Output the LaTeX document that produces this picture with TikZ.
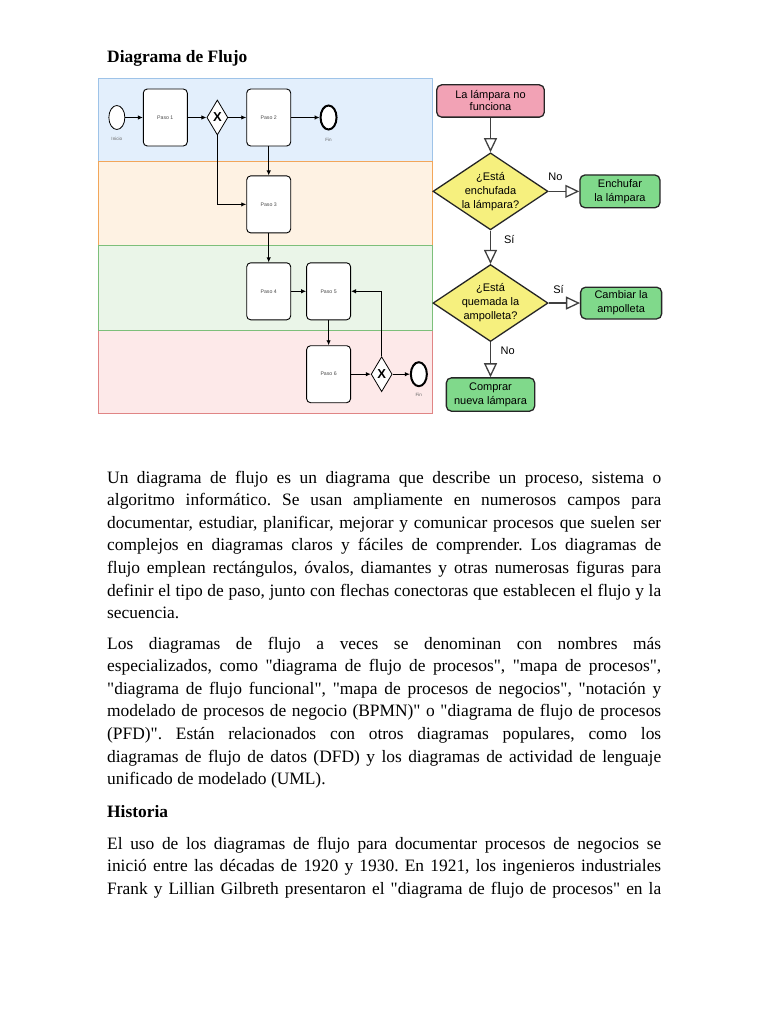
\documentclass[tikz,border=0pt]{standalone}
\usepackage{fontspec}
\setmainfont{Liberation Serif}
\setsansfont{Liberation Sans}
\usetikzlibrary{positioning,arrows.meta,shapes.geometric}

\definecolor{laneblue}{HTML}{9EC3E8}
\definecolor{laneorange}{HTML}{F2A65A}
\definecolor{lanegreen}{HTML}{7DBF7A}
\definecolor{lanered}{HTML}{E08585}
\definecolor{lanebluefill}{HTML}{E3EFFC}
\definecolor{laneorangefill}{HTML}{FEF2E3}
\definecolor{lanegreenfill}{HTML}{EAF5E8}
\definecolor{laneredfill}{HTML}{FDE9E9}
\definecolor{flowpink}{HTML}{F2A2B5}
\definecolor{flowyellow}{HTML}{F6F07E}
\definecolor{flowgreen}{HTML}{80D98B}

\newcommand{\qd}{\textquotedbl}
\tolerance=10000
\hyphenpenalty=10000
\frenchspacing

\begin{document}
\begin{tikzpicture}[
  x=1pt, y=-1pt,
  lane/.style={line width=0.9pt},
  paso/.style={draw, rounded corners=4pt, fill=white, minimum width=44pt, minimum height=57pt, inner sep=0pt, line width=0.9pt, text=black!70, font=\sffamily\fontsize{5.2}{6}\selectfont},
  evento/.style={draw, ellipse, fill=white, minimum width=16pt, minimum height=24pt, inner sep=0pt, line width=0.8pt},
  final/.style={evento, line width=2pt},
  puerta/.style={draw, diamond, fill=white, minimum width=21pt, minimum height=35pt, inner sep=0pt, line width=0.8pt, font=\sffamily\bfseries\fontsize{13}{13}\selectfont},
  lbl/.style={inner sep=0pt, text=black!60, font=\sffamily\fontsize{4.6}{5}\selectfont},
  arr/.style={-{Latex[length=5pt,width=4.5pt]}, line width=0.9pt},
  caja/.style={draw=black!85, rounded corners=5pt, line width=1.3pt, align=center, inner sep=0pt, font=\sffamily\fontsize{11}{14}\selectfont},
  pregunta/.style={draw=black!85, diamond, aspect=1.5, fill=flowyellow, line width=1.3pt, minimum width=114pt, minimum height=77pt, inner sep=0pt, align=center, font=\sffamily\fontsize{11}{14}\selectfont},
  flecha/.style={-{Triangle[open,length=14pt,width=13pt]}, line width=1.3pt, draw=black!75},
  rama/.style={inner sep=1pt, font=\sffamily\fontsize{11}{13}\selectfont},
  parrafo/.style={anchor=base west, inner sep=0pt, text width=554pt, align=justify, font=\fontsize{17.4}{22.6}\selectfont},
]
\useasboundingbox[fill=white] (0,0) rectangle (768,1024);

\node[anchor=base west, inner sep=0pt, font=\bfseries\fontsize{17.4}{22.6}\selectfont] (titulo) at (107,63) {Diagrama de Flujo};

\draw[lane, draw=lanered, fill=laneredfill] (98,330) rectangle (432,413);
\draw[lane, draw=laneblue, fill=lanebluefill] (98,78) rectangle (432,161);
\draw[lane, draw=laneorange, fill=laneorangefill] (98,161) rectangle (432,245);
\draw[lane, draw=lanegreen, fill=lanegreenfill] (98,245) rectangle (432,330);

\node[paso] (p1) at (165.3,117.5) {Paso 1};
\node[evento, left=17.6pt of p1, label={[lbl, yshift=-7pt]below:Inicio}] (ini) {};
\node[puerta, right=18.7pt of p1] (g1) {X};
\node[paso, right=18pt of g1] (p2) {Paso 2};
\node[final, right=28.4pt of p2, label={[lbl, yshift=-7pt]below:Fin}] (fin1) {};
\node[paso, below=29pt of p2] (p3) {Paso 3};
\node[paso, below=29pt of p3] (p4) {Paso 4};
\node[paso, right=15pt of p4] (p5) {Paso 5};
\node[paso, below=25pt of p5] (p6) {Paso 6};
\node[puerta, right=19.7pt of p6] (g2) {X};
\node[final, right=17.3pt of g2, label={[lbl, yshift=-6pt]below:Fin}] (fin2) {};

\draw[arr] (ini) -- (p1);
\draw[arr] (p1) -- (g1);
\draw[arr] (g1) -- (p2);
\draw[arr] (p2) -- (fin1);
\draw[arr] (p2) -- (p3);
\draw[arr] (g1.south) |- (p3.west);
\draw[arr] (p3) -- (p4);
\draw[arr] (p4) -- (p5);
\draw[arr] (p5) -- (p6);
\draw[arr] (p6) -- (g2);
\draw[arr] (g2) -- (fin2);
\draw[arr] (g2.north) |- (p5.east);

\node[caja, fill=flowpink, minimum width=107.6pt, minimum height=32.3pt, font=\sffamily\fontsize{11}{12}\selectfont] (lampara) at (490.5,101) {La lámpara no\\funciona};
\node[pregunta, below=34.4pt of lampara] (enchufada) {¿Está\\enchufada\\la lámpara?};
\node[caja, fill=flowgreen, minimum width=80pt, minimum height=32.7pt, right=30.6pt of enchufada] (enchufar) {Enchufar\\la lámpara};
\node[pregunta, below=33.4pt of enchufada] (quemada) {¿Está\\quemada la\\ampolleta?};
\node[caja, fill=flowgreen, minimum width=81pt, minimum height=31.7pt, right=31.3pt of quemada] (cambiar) {Cambiar la\\ampolleta};
\node[caja, fill=flowgreen, minimum width=88.3pt, minimum height=33.3pt, below=35pt of quemada] (comprar) {Comprar\\nueva lámpara};

\draw[flecha] (lampara) -- (enchufada);
\draw[flecha] (enchufada) -- node[rama, at start, anchor=south west, xshift=-2pt, yshift=9pt] {No} (enchufar);
\draw[flecha] (enchufada) -- node[rama, at start, anchor=north west, xshift=12pt, yshift=-3pt] {Sí} (quemada);
\draw[flecha] (quemada) -- node[rama, at start, anchor=south west, xshift=3pt, yshift=8pt] {Sí} (cambiar);
\draw[flecha] (quemada) -- node[rama, at start, anchor=north west, xshift=8.5pt, yshift=-3pt] {No} (comprar);

\node[parrafo] (parrafo1) at (107,483) {Un diagrama de flujo es un diagrama que describe un proceso, sistema o\linebreak
algoritmo informático. Se usan ampliamente en numerosos campos para\linebreak
documentar, estudiar, planificar, mejorar y comunicar procesos que suelen ser\linebreak
complejos en diagramas claros y fáciles de comprender. Los diagramas de\linebreak
flujo emplean rectángulos, óvalos, diamantes y otras numerosas figuras para\linebreak
definir el tipo de paso, junto con flechas conectoras que establecen el flujo y la\linebreak
secuencia.};

\node[parrafo] (parrafo2) at (107,649) {Los diagramas de flujo a veces se denominan con nombres más\linebreak
especializados, como \qd diagrama de flujo de procesos\qd, \qd mapa de procesos\qd,\linebreak
\qd diagrama de flujo funcional\qd, \qd mapa de procesos de negocios\qd, \qd notación y\linebreak
modelado de procesos de negocio (BPMN)\qd{} o \qd diagrama de flujo de procesos\linebreak
(PFD)\qd. Están relacionados con otros diagramas populares, como los\linebreak
diagramas de flujo de datos (DFD) y los diagramas de actividad de lenguaje\linebreak
unificado de modelado (UML).};

\node[anchor=base west, inner sep=0pt, font=\bfseries\fontsize{17.4}{22.6}\selectfont] (historia) at (107,817) {Historia};

\node[parrafo] (parrafo3) at (107,849) {El uso de los diagramas de flujo para documentar procesos de negocios se\linebreak
inició entre las décadas de 1920 y 1930. En 1921, los ingenieros industriales\linebreak
Frank y Lillian Gilbreth presentaron el \qd diagrama de flujo de procesos\qd{} en la\linebreak};
\end{tikzpicture}
\end{document}
